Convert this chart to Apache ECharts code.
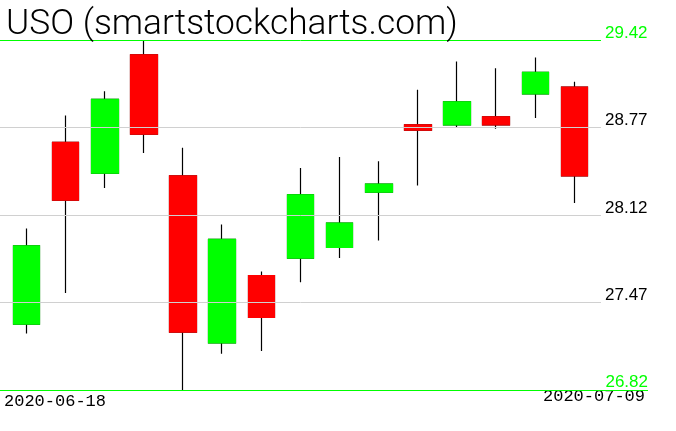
<!DOCTYPE html>
<html>
<head>
<meta charset="utf-8">
<script src="https://cdn.jsdelivr.net/npm/echarts@6/dist/echarts.min.js"></script>
<style>
html,body{margin:0;padding:0;background:#fff;}
#chart{width:676px;height:431px;}
</style>
</head>
<body>
<div id="chart"></div>
<script>
const titleText = 'USO (smartstockcharts.com)';
const dates = ['2020-06-18','2020-06-19','2020-06-22','2020-06-23','2020-06-24','2020-06-25','2020-06-26','2020-06-29','2020-06-30','2020-07-01','2020-07-02','2020-07-06','2020-07-07','2020-07-08','2020-07-09'];
const opens  = [27.31, 28.66, 28.43, 29.31, 28.41, 27.17, 27.67, 27.80, 27.88, 28.29, 28.79, 28.79, 28.85, 29.02, 29.07];
const closes = [27.89, 28.23, 28.98, 28.72, 27.25, 27.94, 27.36, 28.27, 28.06, 28.35, 28.75, 28.96, 28.79, 29.18, 28.41];
const lows   = [27.24, 27.54, 28.32, 28.58, 26.82, 27.09, 27.11, 27.62, 27.80, 27.93, 28.34, 28.77, 28.76, 28.84, 28.21];
const highs  = [28.02, 28.86, 29.04, 29.42, 28.62, 28.05, 27.70, 28.47, 28.55, 28.52, 29.05, 29.26, 29.21, 29.29, 29.11];
const yTicks = [26.82, 27.47, 28.12, 28.77, 29.42];

const GREEN = '#00ff00', RED = '#ff0000', GRID = '#d0d0d0';

const ohlc = dates.map((d, i) => [opens[i], closes[i], lows[i], highs[i]]);
const bodies = dates.map((d, i) => [opens[i], closes[i], Math.min(opens[i], closes[i]), Math.max(opens[i], closes[i])]);

const lastTick = yTicks.length - 1;
const markData = yTicks.map((v, i) => {
  const edge = (i === 0 || i === lastTick);
  const color = edge ? GREEN : GRID;
  const bottom = i === 0;
  return [
    {
      yAxis: v, x: 0,
      lineStyle: {color: color, width: 1, type: 'solid'},
      label: {
        show: true,
        formatter: v.toFixed(2),
        position: bottom ? 'insideEndTop' : 'end',
        distance: bottom ? [0, 1] : 4,
        verticalAlign: 'bottom',
        align: bottom ? 'right' : 'left',
        color: edge ? GREEN : '#000',
        fontFamily: 'Liberation Sans',
        fontSize: 17,
        lineHeight: 14
      }
    },
    {yAxis: v, x: bottom ? 648 : 601}
  ];
});

const chart = echarts.init(document.getElementById('chart'), null, {renderer: 'canvas'});
chart.setOption({
  animation: false,
  backgroundColor: '#fff',
  title: {
    text: titleText,
    left: 6, top: 8, padding: 0,
    textStyle: {fontFamily: 'Roboto', fontSize: 35.3, fontWeight: 300, color: '#000'}
  },
  grid: {left: 7, right: 82, top: 40, bottom: 41},
  xAxis: {
    type: 'category', data: dates, boundaryGap: true,
    axisLine: {show: false}, axisTick: {show: false}, axisLabel: {show: false}, splitLine: {show: false}
  },
  yAxis: {
    type: 'value', min: yTicks[0], max: yTicks[lastTick], scale: true,
    axisLine: {show: false}, axisTick: {show: false}, axisLabel: {show: false}, splitLine: {show: false}
  },
  graphic: [
    {type: 'text', left: 4, top: 393, style: {text: dates[0], font: '17px "Liberation Mono"', fill: '#000'}},
    {type: 'text', right: 31, top: 388, style: {text: dates[dates.length - 1], font: '17px "Liberation Mono"', fill: '#000'}}
  ],
  series: [
    {
      type: 'candlestick', data: ohlc, barWidth: 27, silent: true,
      itemStyle: {color: '#000', color0: '#000', borderColor: '#000', borderColor0: '#000', borderWidth: 1.2}
    },
    {
      type: 'candlestick', data: bodies, barWidth: 27, silent: true,
      itemStyle: {color: GREEN, color0: RED, borderColor: GREEN, borderColor0: RED, borderWidth: 1.2},
      markLine: {silent: true, symbol: 'none', animation: false, data: markData}
    }
  ]
});
</script>
</body>
</html>
